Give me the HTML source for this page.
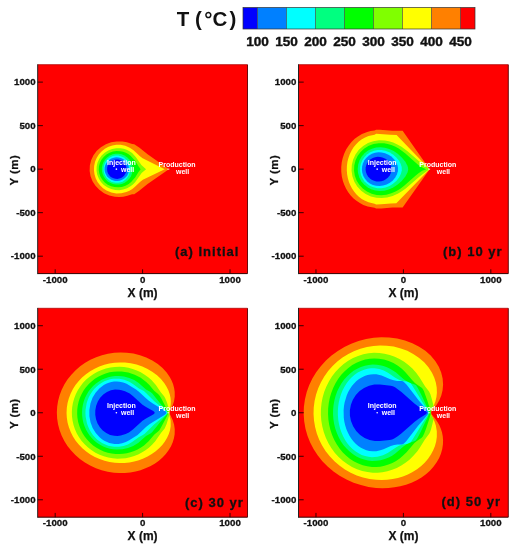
<!DOCTYPE html>
<html><head><meta charset="utf-8"><title>Temperature contours</title><style>html,body{margin:0;padding:0;background:#fff;}
svg{display:block;filter:blur(0.4px);}
text{font-family:"Liberation Sans",Arial,sans-serif;font-weight:bold;}
.tk{font-size:9.7px;fill:#111;stroke:#111;stroke-width:0.3px;}
.ax{font-size:12px;fill:#111;stroke:#111;stroke-width:0.25px;}
.ay{font-size:11.5px;letter-spacing:0.4px;}
.wl{font-size:7px;fill:#fff;}
.pt{font-size:13px;fill:#111;letter-spacing:1.0px;stroke:#111;stroke-width:0.3px;}
.cb{font-size:13.6px;fill:#111;stroke:#111;stroke-width:0.4px;}
.ttl{font-size:20.5px;fill:#111;}
</style></head>
<body><svg width="516" height="550" viewBox="0 0 516 550">
<rect x="243" y="7.5" width="14.5" height="21.5" fill="#0000ff"/>
<rect x="257.5" y="7.5" width="29" height="21.5" fill="#0080ff"/>
<rect x="286.5" y="7.5" width="29" height="21.5" fill="#00ffff"/>
<rect x="315.5" y="7.5" width="29" height="21.5" fill="#00ff80"/>
<rect x="344.5" y="7.5" width="29" height="21.5" fill="#00ff00"/>
<rect x="373.5" y="7.5" width="29" height="21.5" fill="#80ff00"/>
<rect x="402.5" y="7.5" width="29" height="21.5" fill="#ffff00"/>
<rect x="431.5" y="7.5" width="29" height="21.5" fill="#ff8000"/>
<rect x="460.5" y="7.5" width="14.5" height="21.5" fill="#ff0000"/>
<line x1="257.5" y1="7.5" x2="257.5" y2="29" stroke="#333" stroke-width="0.6"/>
<line x1="286.5" y1="7.5" x2="286.5" y2="29" stroke="#333" stroke-width="0.6"/>
<line x1="315.5" y1="7.5" x2="315.5" y2="29" stroke="#333" stroke-width="0.6"/>
<line x1="344.5" y1="7.5" x2="344.5" y2="29" stroke="#333" stroke-width="0.6"/>
<line x1="373.5" y1="7.5" x2="373.5" y2="29" stroke="#333" stroke-width="0.6"/>
<line x1="402.5" y1="7.5" x2="402.5" y2="29" stroke="#333" stroke-width="0.6"/>
<line x1="431.5" y1="7.5" x2="431.5" y2="29" stroke="#333" stroke-width="0.6"/>
<line x1="460.5" y1="7.5" x2="460.5" y2="29" stroke="#333" stroke-width="0.6"/>
<rect x="243" y="7.5" width="232" height="21.5" fill="none" stroke="#333" stroke-width="0.7"/>
<text x="257.5" y="46.2" class="cb" text-anchor="middle">100</text>
<text x="286.5" y="46.2" class="cb" text-anchor="middle">150</text>
<text x="315.5" y="46.2" class="cb" text-anchor="middle">200</text>
<text x="344.5" y="46.2" class="cb" text-anchor="middle">250</text>
<text x="373.5" y="46.2" class="cb" text-anchor="middle">300</text>
<text x="402.5" y="46.2" class="cb" text-anchor="middle">350</text>
<text x="431.5" y="46.2" class="cb" text-anchor="middle">400</text>
<text x="460.5" y="46.2" class="cb" text-anchor="middle">450</text>
<text x="176.8" y="25.6" class="ttl">T (<tspan dx="2.4">°C</tspan><tspan dx="2.2">)</tspan></text>
<clipPath id="clipa"><rect x="37.7" y="64.7" width="209.8" height="208.9"/></clipPath>
<rect x="37.7" y="64.7" width="209.8" height="208.9" fill="#ff0000"/>
<g clip-path="url(#clipa)">
<path d="M122.35,141.47 126.87,142.3 132.11,144.07 134.21,144.15 139.19,147.59 147.58,154.33 168.82,169.15 147.58,183.97 139.19,190.71 134.21,194.15 132.11,194.23 127.39,195.85 123.19,196.73 119,197.01 114.8,196.73 109.29,195.45 104.05,193.14 99.33,189.86 95.47,185.86 92.51,181.25 90.55,176.2 89.65,170.98 89.84,165.49 91.12,160.27 93.47,155.31 96.8,150.87 100.9,147.19 105.89,144.21 111.13,142.3 116.64,141.38 122.35,141.47Z" fill="#ff8000" fill-rule="evenodd"/>
<path d="M120.61,144.87 125.29,145.83 129.75,147.74 133.56,150.35 139.72,156.1 142.6,158.28 164.75,169.15 142.86,179.86 140,181.95 134.99,186.71 132.37,188.88 129.49,190.7 126.34,192.11 121.36,193.34 116.38,193.5 111.39,192.6 106.5,190.56 103.01,188.21 100.01,185.34 97.52,181.95 95.69,178.29 94.49,174.37 93.95,170.19 94.13,166.02 95.04,161.84 96.64,157.92 98.8,154.45 101.52,151.39 104.84,148.75 108.51,146.75 112.44,145.42 116.38,144.8 120.61,144.87Z" fill="#ffff00" fill-rule="evenodd"/>
<path d="M120.51,148.26 123.72,148.85 126.6,149.81 129.49,151.26 132.11,153.11 135.74,156.88 141.4,164.97 146.07,169.15 141.64,173.07 135.11,182.21 132.9,184.51 130.54,186.37 127.13,188.26 123.19,189.58 119.26,190.14 115.33,189.99 111.13,189.04 107.2,187.29 103.79,184.9 100.95,181.95 98.77,178.55 97.23,174.63 96.54,170.72 96.65,166.54 97.55,162.62 99.19,158.97 101.6,155.57 104.65,152.7 108.25,150.45 112.18,148.94 116.38,148.2 120.51,148.26Z" fill="#80ff00" fill-rule="evenodd"/>
<path d="M120.32,151.13 123.19,151.74 125.82,152.71 128.19,154 130.54,155.77 133.95,159.61 134.99,160.47 138.5,166.28 140.66,169.15 138.5,172.02 134.99,177.83 133.95,178.69 131.17,181.95 128.7,183.96 125.55,185.7 121.88,186.89 118.21,187.34 114.54,187.09 111.13,186.22 107.72,184.63 104.77,182.47 102.36,179.86 100.45,176.72 99.23,173.33 98.74,169.93 98.96,166.28 99.89,162.88 101.45,159.75 103.69,156.88 106.41,154.52 109.56,152.71 112.97,151.53 116.64,150.98 120.32,151.13Z" fill="#00ff00" fill-rule="evenodd"/>
<path d="M118.7,153.74 121.62,154.31 124.5,155.49 126.98,157.14 129.09,159.23 130.8,161.75 131.95,164.45 132.57,167.32 132.62,170.46 132.1,173.33 130.98,176.2 129.3,178.81 127.13,181.04 124.65,182.73 121.88,183.91 119,184.53 115.85,184.56 112.97,184.02 110.08,182.85 107.52,181.16 105.41,179.07 103.79,176.71 102.55,173.85 101.93,170.98 101.88,167.84 102.47,164.71 103.65,161.84 105.36,159.29 107.46,157.19 109.85,155.57 112.7,154.36 115.59,153.77 118.7,153.74Z" fill="#00ff80" fill-rule="evenodd"/>
<path d="M118.23,155.57 120.83,156.13 123.19,157.17 125.29,158.64 127.11,160.53 128.6,162.88 129.53,165.23 130.02,167.84 130.02,170.46 129.53,173.07 128.6,175.42 127.13,177.74 125.29,179.66 123.19,181.13 120.83,182.17 118.21,182.73 115.59,182.75 112.97,182.22 110.61,181.22 108.51,179.8 106.52,177.77 105.1,175.57 104.1,173.07 103.6,170.46 103.6,167.84 104.1,165.23 105.15,162.62 106.67,160.34 108.51,158.5 110.61,157.08 112.97,156.08 115.59,155.55 118.23,155.57Z" fill="#00ffff" fill-rule="evenodd"/>
<path d="M118.45,157.4 120.83,157.95 122.93,158.88 124.92,160.27 126.6,162.04 127.91,164.17 128.68,166.28 129.02,168.37 128.94,170.72 128.36,173.07 127.36,175.16 126,176.98 124.24,178.57 122.14,179.82 119.78,180.65 117.42,180.99 115.06,180.89 112.7,180.32 110.61,179.37 108.7,178.03 106.98,176.2 105.7,174.11 104.94,172.02 104.6,169.93 104.68,167.58 105.26,165.23 106.26,163.14 107.63,161.32 109.36,159.75 111.39,158.52 113.75,157.67 116.11,157.31 118.45,157.4Z" fill="#0080ff" fill-rule="evenodd"/>
<path d="M118.19,159.49 120.05,159.94 121.62,160.66 123.19,161.77 124.5,163.16 125.49,164.71 126.2,166.54 126.53,168.37 126.47,170.46 126.04,172.28 125.21,174.11 124.06,175.68 122.67,176.95 121.1,177.92 119.26,178.6 117.42,178.89 115.33,178.8 113.49,178.33 111.78,177.51 110.34,176.45 109.03,175.03 108,173.33 107.35,171.5 107.08,169.67 107.15,167.84 107.58,166.02 108.42,164.19 109.56,162.63 110.87,161.42 112.44,160.43 114.28,159.73 116.11,159.42 118.19,159.49Z" fill="#0000ff" fill-rule="evenodd"/>
</g>
<path d="M37.7,64.7H247.5" stroke="#b00000" stroke-width="0.8"/>
<path d="M247.5,64.7V273.6" stroke="#500" stroke-width="0.9"/>
<path d="M37.7,273.6H247.5" stroke="#300" stroke-width="1"/>
<path d="M37.7,64.3V274.1" stroke="#222" stroke-width="1"/>
<line x1="37.7" y1="256.19" x2="42.9" y2="256.19" stroke="#200" stroke-width="0.9"/>
<text x="35.6" y="259.49" class="tk" text-anchor="end">-1000</text>
<line x1="37.7" y1="212.67" x2="42.9" y2="212.67" stroke="#200" stroke-width="0.9"/>
<text x="35.6" y="215.97" class="tk" text-anchor="end">-500</text>
<line x1="37.7" y1="169.15" x2="42.9" y2="169.15" stroke="#200" stroke-width="0.9"/>
<text x="35.6" y="172.45" class="tk" text-anchor="end">0</text>
<line x1="37.7" y1="125.63" x2="42.9" y2="125.63" stroke="#200" stroke-width="0.9"/>
<text x="35.6" y="128.93" class="tk" text-anchor="end">500</text>
<line x1="37.7" y1="82.11" x2="42.9" y2="82.11" stroke="#200" stroke-width="0.9"/>
<text x="35.6" y="85.41" class="tk" text-anchor="end">1000</text>
<line x1="55.18" y1="273.6" x2="55.18" y2="269.3" stroke="#200" stroke-width="0.9"/>
<text x="55.18" y="282.7" class="tk" text-anchor="middle">-1000</text>
<line x1="142.6" y1="273.6" x2="142.6" y2="269.3" stroke="#200" stroke-width="0.9"/>
<text x="142.6" y="282.7" class="tk" text-anchor="middle">0</text>
<line x1="230.02" y1="273.6" x2="230.02" y2="269.3" stroke="#200" stroke-width="0.9"/>
<text x="230.02" y="282.7" class="tk" text-anchor="middle">1000</text>
<text x="142.6" y="296.8" class="ax" text-anchor="middle">X (m)</text>
<text transform="translate(17.6,170.15) rotate(-90)" class="ax ay" text-anchor="middle">Y (m)</text>
<circle cx="116.38" cy="169.15" r="0.8" fill="#fff"/>
<line x1="167.32" y1="169.15" x2="169.32" y2="169.15" stroke="#fff" stroke-width="0.8"/>
<text x="106.97" y="164.55" class="wl">Injection</text>
<text x="120.97" y="171.75" class="wl">well</text>
<text x="158.52" y="167.15" class="wl">Production</text>
<text x="176.02" y="174.35" class="wl">well</text>
<text x="175" y="256" class="pt">(a) Initial</text>
<clipPath id="clipb"><rect x="298.5" y="64.7" width="209.8" height="208.9"/></clipPath>
<rect x="298.5" y="64.7" width="209.8" height="208.9" fill="#ff0000"/>
<g clip-path="url(#clipb)">
<path d="M379.85,129.72 392.12,130.7 402.61,130.75 429.62,169.15 402.61,207.55 392.39,207.59 381.37,208.5 376.13,208.62 374.55,207.87 367.73,206.54 363.34,204.92 359.87,203.12 356.46,200.84 353.56,198.4 350.69,195.39 348.2,192.13 345.98,188.47 344.26,184.82 342.88,180.9 341.83,176.46 341.27,171.76 341.24,167.06 341.74,162.36 342.73,157.92 344.26,153.48 346.26,149.3 348.75,145.39 351.5,141.99 354.73,138.86 358.29,136.16 361.96,134.03 367.21,131.92 370.62,131.05 374.55,130.43 376.13,129.68 379.85,129.72Z" fill="#ff8000" fill-rule="evenodd"/>
<path d="M379.58,133.9 390.03,134.85 396.58,135.08 429.57,169.15 396.32,203.35 390.81,203.41 381.11,204.31 376.13,204.45 374.55,203.64 368.52,202.27 364.59,200.6 361.7,198.89 358.82,196.7 356.25,194.22 354.06,191.61 352,188.53 350.31,185.34 348.93,181.95 347.85,178.29 347.11,174.37 346.78,170.19 346.89,166.02 347.4,162.1 348.34,158.18 349.73,154.27 351.47,150.68 353.57,147.36 355.93,144.43 358.56,141.83 361.44,139.58 364.59,137.7 368.52,136.03 374.55,134.66 376.13,133.85 379.58,133.9Z" fill="#ffff00" fill-rule="evenodd"/>
<path d="M384.84,140.43 388.98,141.2 393.17,142.52 397.37,144.4 401.56,146.84 407.86,151.51 420.24,162.36 428.56,168.37 429.36,169.18 419.59,176.46 405.76,188.47 401.83,191.29 398.15,193.49 392.65,195.97 387.14,197.51 381.63,198.11 376.39,197.8 370.88,196.46 365.64,194.03 361.18,190.78 357.24,186.49 354.34,181.68 352.37,176.2 351.54,170.72 351.8,164.97 353.15,159.49 355.6,154.27 358.86,149.83 363.17,145.91 368,143.02 373.24,141.13 379.01,140.23 384.84,140.43Z" fill="#80ff00" fill-rule="evenodd"/>
<path d="M384.13,143.3 387.67,143.91 391.34,145 395.01,146.54 398.68,148.55 405.13,153.22 415.2,162.36 418.61,165.15 422.28,167.48 426.18,169.15 422.28,170.82 418.87,172.96 415.46,175.71 404.17,185.86 399.99,188.92 396.06,191.24 391.34,193.3 386.35,194.66 381.37,195.19 376.65,194.91 371.67,193.72 366.95,191.57 362.75,188.55 359.28,184.82 356.56,180.38 354.84,175.68 354.05,170.72 354.26,165.49 355.47,160.53 357.53,156.09 360.57,151.92 364.32,148.46 368.78,145.76 373.5,144.02 378.75,143.16 384.13,143.3Z" fill="#00ff00" fill-rule="evenodd"/>
<path d="M380.48,147.22 384.78,147.65 389.24,148.9 393.7,151.01 397.73,153.74 401.98,157.66 405.34,161.84 407.45,165.76 407.98,167.58 408.13,169.15 407.98,170.72 407.45,172.54 405.34,176.46 401.73,180.9 397.39,184.82 393.17,187.59 388.71,189.59 384.26,190.74 379.8,191.09 375.34,190.6 371.14,189.3 367.47,187.34 364.06,184.55 361.3,181.16 359.26,177.24 358.05,173.07 357.7,168.89 358.21,164.45 359.59,160.27 361.7,156.55 364.59,153.24 368,150.62 371.93,148.68 376.13,147.55 380.48,147.22Z" fill="#00ff80" fill-rule="evenodd"/>
<path d="M381.5,150.09 385.3,150.79 389.24,152.27 392.91,154.47 396.04,157.14 398.68,160.27 400.62,163.67 401.67,167.06 401.78,170.46 400.95,173.85 399.04,177.51 396.29,180.9 392.99,183.77 389.5,185.9 385.57,187.44 381.63,188.2 377.44,188.19 373.5,187.37 370.09,185.93 366.95,183.79 364.35,181.16 362.29,178.03 360.9,174.63 360.19,170.98 360.21,167.06 360.98,163.41 362.43,160.01 364.57,156.88 367.24,154.27 370.36,152.23 374.03,150.77 377.7,150.08 381.5,150.09Z" fill="#00ffff" fill-rule="evenodd"/>
<path d="M381.71,152.44 385.07,153.22 388.45,154.7 391.34,156.62 394.04,159.23 396.07,162.1 397.45,165.23 398.01,168.11 397.88,171.24 396.97,174.37 395.25,177.51 392.81,180.38 389.89,182.73 386.62,184.5 383.21,185.59 379.54,186.04 376.13,185.79 372.98,184.94 369.83,183.4 367.21,181.39 364.97,178.81 363.34,175.94 362.3,172.81 361.91,169.67 362.15,166.28 363.01,163.14 364.45,160.27 366.46,157.66 369.05,155.42 371.93,153.78 375.08,152.73 378.49,152.27 381.71,152.44Z" fill="#0080ff" fill-rule="evenodd"/>
<path d="M380.1,156.88 382.42,157.39 384.78,158.38 386.88,159.77 388.73,161.58 390.15,163.67 391.12,166.02 391.55,168.37 391.46,170.72 390.87,173.07 389.69,175.42 388.01,177.51 386.16,179.07 383.83,180.38 381.37,181.19 379.01,181.52 376.39,181.39 374.03,180.81 371.67,179.71 369.72,178.29 368.04,176.46 366.78,174.37 365.94,172.02 365.61,169.67 365.74,167.32 366.34,164.97 367.34,162.88 368.78,160.94 370.62,159.28 372.72,158.03 375.08,157.17 377.7,156.78 380.1,156.88Z" fill="#0000ff" fill-rule="evenodd"/>
</g>
<path d="M298.5,64.7H508.3" stroke="#b00000" stroke-width="0.8"/>
<path d="M508.3,64.7V273.6" stroke="#500" stroke-width="0.9"/>
<path d="M298.5,273.6H508.3" stroke="#300" stroke-width="1"/>
<path d="M298.5,64.3V274.1" stroke="#222" stroke-width="1"/>
<line x1="298.5" y1="256.19" x2="303.7" y2="256.19" stroke="#200" stroke-width="0.9"/>
<text x="296.4" y="259.49" class="tk" text-anchor="end">-1000</text>
<line x1="298.5" y1="212.67" x2="303.7" y2="212.67" stroke="#200" stroke-width="0.9"/>
<text x="296.4" y="215.97" class="tk" text-anchor="end">-500</text>
<line x1="298.5" y1="169.15" x2="303.7" y2="169.15" stroke="#200" stroke-width="0.9"/>
<text x="296.4" y="172.45" class="tk" text-anchor="end">0</text>
<line x1="298.5" y1="125.63" x2="303.7" y2="125.63" stroke="#200" stroke-width="0.9"/>
<text x="296.4" y="128.93" class="tk" text-anchor="end">500</text>
<line x1="298.5" y1="82.11" x2="303.7" y2="82.11" stroke="#200" stroke-width="0.9"/>
<text x="296.4" y="85.41" class="tk" text-anchor="end">1000</text>
<line x1="315.98" y1="273.6" x2="315.98" y2="269.3" stroke="#200" stroke-width="0.9"/>
<text x="315.98" y="282.7" class="tk" text-anchor="middle">-1000</text>
<line x1="403.4" y1="273.6" x2="403.4" y2="269.3" stroke="#200" stroke-width="0.9"/>
<text x="403.4" y="282.7" class="tk" text-anchor="middle">0</text>
<line x1="490.82" y1="273.6" x2="490.82" y2="269.3" stroke="#200" stroke-width="0.9"/>
<text x="490.82" y="282.7" class="tk" text-anchor="middle">1000</text>
<text x="403.4" y="296.8" class="ax" text-anchor="middle">X (m)</text>
<text transform="translate(278.4,170.15) rotate(-90)" class="ax ay" text-anchor="middle">Y (m)</text>
<circle cx="377.18" cy="169.15" r="0.8" fill="#fff"/>
<line x1="428.12" y1="169.15" x2="430.12" y2="169.15" stroke="#fff" stroke-width="0.8"/>
<text x="367.78" y="164.55" class="wl">Injection</text>
<text x="381.78" y="171.75" class="wl">well</text>
<text x="419.32" y="167.15" class="wl">Production</text>
<text x="436.82" y="174.35" class="wl">well</text>
<text x="443" y="256.3" class="pt">(b) 10 yr</text>
<clipPath id="clipc"><rect x="37.7" y="308.3" width="209.8" height="208.9"/></clipPath>
<rect x="37.7" y="308.3" width="209.8" height="208.9" fill="#ff0000"/>
<g clip-path="url(#clipc)">
<path d="M126.69,352.69 133.42,353.6 139.98,355.2 146.27,357.47 152.3,360.45 157.81,364.04 162.53,368.03 166.65,372.54 169.87,377.22 171.71,380.73 173.12,384.29 174.11,387.94 174.7,391.86 174.74,396.56 174.02,401.26 172.66,405.44 170.06,410.92 169.7,412.75 170.06,414.58 172.77,420.32 174.08,424.5 174.75,429.2 174.65,434.16 173.94,438.34 172.65,442.52 170.9,446.44 168.56,450.36 165.79,454.01 162.53,457.47 158.86,460.66 154.66,463.63 150.21,466.19 145.48,468.36 140.5,470.14 135.52,471.47 130.27,472.41 124.77,472.94 119.26,473.02 114.01,472.67 107.72,471.71 101.69,470.2 95.92,468.19 90.15,465.55 84.91,462.52 79.9,458.97 75.36,455.05 71.13,450.61 67.47,445.91 64.33,440.95 61.6,435.47 59.54,429.98 58.03,424.24 57.14,418.49 56.85,412.49 57.17,406.74 58.08,401 59.62,395.25 61.71,389.77 64.45,384.34 67.65,379.33 71.36,374.63 75.64,370.19 80.18,366.31 85.17,362.81 90.41,359.82 96.18,357.21 101.95,355.22 107.98,353.74 114.28,352.8 120.57,352.46 126.69,352.69Z" fill="#ff8000" fill-rule="evenodd"/>
<path d="M125.01,362.61 130.8,363.32 136.57,364.62 142.34,366.57 147.58,368.98 152.57,371.95 157.02,375.32 160.96,379.08 164.37,383.25 166.54,386.64 168.35,390.29 169.66,393.95 170.52,397.87 170.81,401 170.72,404.13 170.32,406.74 169.27,410.92 169.08,412.75 169.27,414.58 170.67,420.84 170.69,426.33 170.01,430.25 168.82,434.03 167.11,437.82 164.89,441.5 162.27,444.94 159.12,448.28 155.71,451.25 151.78,454.07 147.58,456.52 143.39,458.5 138.93,460.17 134.21,461.49 129.49,462.39 124.5,462.92 119.52,463.03 114.8,462.74 109.56,461.96 104.57,460.76 99.59,459.07 94.87,456.96 90.41,454.46 86.22,451.55 82.33,448.26 78.77,444.61 75.65,440.69 72.96,436.51 70.7,432.07 68.89,427.37 67.61,422.67 66.82,417.71 66.55,413.01 66.79,408.05 67.56,403.09 68.8,398.39 70.58,393.69 72.81,389.25 75.47,385.07 78.55,381.15 82.05,377.5 85.95,374.15 90.15,371.21 94.61,368.67 99.33,366.53 104.31,364.82 109.29,363.59 114.54,362.79 119.78,362.47 125.01,362.61Z" fill="#ffff00" fill-rule="evenodd"/>
<path d="M119.54,366.79 123.98,367.09 128.44,367.82 132.63,368.92 136.83,370.44 140.76,372.3 144.67,374.63 148.23,377.24 151.46,380.11 155.87,385.07 160.96,392.62 164.1,396.32 165.24,398.13 166.99,402.61 169.33,410.4 169.06,412.75 169.33,415.1 166.62,423.98 164.65,428.42 160.96,432.88 155.04,441.47 152.04,444.82 148.89,447.72 145.48,450.32 141.81,452.62 138.14,454.49 134.21,456.06 130.01,457.32 125.82,458.16 121.62,458.62 117.42,458.7 112.7,458.36 108.25,457.58 103.79,456.36 99.59,454.76 95.45,452.7 91.68,450.35 88.05,447.57 84.64,444.37 81.66,440.95 79.05,437.3 76.8,433.38 74.93,429.2 73.53,425.02 72.52,420.58 71.96,416.14 71.85,411.71 72.17,407.27 72.94,402.83 74.17,398.39 75.8,394.21 77.82,390.23 80.29,386.38 83.07,382.85 86.22,379.57 89.63,376.66 93.56,373.92 97.49,371.72 101.69,369.88 105.89,368.51 110.34,367.5 114.8,366.93 119.54,366.79Z" fill="#80ff00" fill-rule="evenodd"/>
<path d="M121.62,371.49 128.29,372.54 134.73,374.66 140.76,377.82 146.2,381.94 149.35,385.07 154.14,390.69 158.09,393.95 159.65,395.73 161.48,398.84 167.33,410.14 167.94,411.71 168.06,413.01 167.78,414.32 167.07,415.88 161.24,427.11 159.38,430.14 158.07,431.56 154.4,434.55 148.62,441.21 144.01,445.39 141.03,447.51 137.62,449.48 134.21,451.06 130.54,452.35 126.87,453.28 123.19,453.86 119.52,454.11 115.59,454.01 111.65,453.54 107.72,452.68 103.79,451.4 100.12,449.79 96.46,447.74 93.11,445.39 90.07,442.78 87.27,439.85 84.65,436.51 82.54,433.19 80.71,429.56 79.25,425.81 78.16,421.89 77.44,417.71 77.15,413.79 77.26,409.62 77.74,405.7 78.62,401.78 79.91,397.87 81.53,394.21 83.59,390.57 85.95,387.23 88.58,384.21 91.51,381.42 94.87,378.81 98.21,376.71 101.87,374.89 105.62,373.45 109.56,372.37 113.49,371.69 117.42,371.39 121.62,371.49Z" fill="#00ff00" fill-rule="evenodd"/>
<path d="M118.59,375.93 123.98,376.5 129.23,377.9 134.2,380.11 138.67,382.97 146.01,389.4 150.47,391.96 152.3,393.52 160.27,403.61 166.41,410.4 167.23,411.71 167.46,412.75 167.23,413.79 166.41,415.1 160.27,421.89 152.04,432.25 150.47,433.54 146.01,436.1 138.14,442.91 133.19,445.91 128.01,448 122.41,449.26 116.9,449.57 113.23,449.29 109.82,448.67 106.41,447.69 103.27,446.44 100.12,444.8 97.23,442.91 94.46,440.69 91.99,438.27 89.63,435.47 87.66,432.6 85.92,429.46 84.45,426.07 83.36,422.67 82.56,419.02 82.15,415.62 82.05,411.97 82.3,408.31 82.91,404.66 83.82,401.26 85.08,397.87 86.6,394.73 88.5,391.6 90.67,388.73 93.07,386.12 95.69,383.77 98.54,381.68 101.67,379.85 104.84,378.4 108.25,377.23 111.65,376.45 115.06,376.02 118.59,375.93Z" fill="#00ff80" fill-rule="evenodd"/>
<path d="M119.27,378.8 124.24,379.78 129.23,381.74 132.9,383.92 138.93,388.42 143.91,391.09 145.75,392.67 154.3,401.26 165.62,410.4 166.72,411.71 167.02,412.75 166.72,413.79 165.62,415.1 154.3,424.24 144.7,433.79 142.86,435.08 138.67,437.25 132.11,442.11 127.91,444.38 123.46,445.94 119,446.72 114.28,446.77 111.13,446.35 108.25,445.65 105.36,444.61 102.48,443.21 99.85,441.58 97.36,439.65 95.13,437.54 92.89,434.95 91.05,432.33 89.41,429.46 88,426.33 86.93,423.2 85.65,416.67 85.44,413.27 85.55,409.88 86.64,403.35 87.61,400.22 88.9,397.08 90.41,394.21 92.25,391.41 94.19,388.99 96.48,386.64 98.8,384.69 101.43,382.9 104.31,381.35 107.2,380.19 110.08,379.37 113.23,378.83 116.38,378.65 119.27,378.8Z" fill="#00ffff" fill-rule="evenodd"/>
<path d="M119.52,381.68 123.19,382.47 126.6,383.77 136.04,389.47 138.93,391.69 145.4,397.87 148.89,400.82 152.83,403.51 164.49,410.4 165.98,411.71 166.4,412.75 165.76,414.06 164.11,415.36 152.99,421.89 149.47,424.24 145.97,427.11 137.62,434.9 129.23,440.32 125.82,442.08 122.14,443.32 118.47,443.94 114.54,443.96 109.29,442.95 104.31,440.77 101.95,439.25 99.59,437.33 95.78,433.12 92.63,427.9 90.5,422.15 89.4,416.14 89.36,409.88 90.43,403.61 92.51,397.87 95.59,392.64 99.33,388.41 103.79,385.04 106.15,383.77 108.77,382.72 111.39,382 114.01,381.58 116.9,381.47 119.52,381.68Z" fill="#0080ff" fill-rule="evenodd"/>
<path d="M119.1,389.77 121.65,390.29 125.03,391.36 127.65,392.41 129.75,393.57 133.16,396.19 142.51,404.66 146.01,407 153.24,410.92 154.4,411.97 154.68,412.75 154.4,413.53 153.24,414.58 146.01,418.5 142.51,420.84 132.9,429.53 128.96,432.41 125.68,433.9 120.83,435.41 117.42,435.89 114.28,435.81 110.08,434.88 106.26,433.12 102.75,430.51 99.85,427.29 97.56,423.46 96.02,419.28 95.25,414.84 95.3,410.14 96.17,405.7 97.82,401.52 100.12,397.87 103.26,394.53 106.93,392 110.87,390.37 115.06,389.62 119.1,389.77Z" fill="#0000ff" fill-rule="evenodd"/>
</g>
<path d="M37.7,308.3H247.5" stroke="#b00000" stroke-width="0.8"/>
<path d="M247.5,308.3V517.2" stroke="#500" stroke-width="0.9"/>
<path d="M37.7,517.2H247.5" stroke="#300" stroke-width="1"/>
<path d="M37.7,307.9V517.7" stroke="#222" stroke-width="1"/>
<line x1="37.7" y1="499.79" x2="42.9" y2="499.79" stroke="#200" stroke-width="0.9"/>
<text x="35.6" y="503.09" class="tk" text-anchor="end">-1000</text>
<line x1="37.7" y1="456.27" x2="42.9" y2="456.27" stroke="#200" stroke-width="0.9"/>
<text x="35.6" y="459.57" class="tk" text-anchor="end">-500</text>
<line x1="37.7" y1="412.75" x2="42.9" y2="412.75" stroke="#200" stroke-width="0.9"/>
<text x="35.6" y="416.05" class="tk" text-anchor="end">0</text>
<line x1="37.7" y1="369.23" x2="42.9" y2="369.23" stroke="#200" stroke-width="0.9"/>
<text x="35.6" y="372.53" class="tk" text-anchor="end">500</text>
<line x1="37.7" y1="325.71" x2="42.9" y2="325.71" stroke="#200" stroke-width="0.9"/>
<text x="35.6" y="329.01" class="tk" text-anchor="end">1000</text>
<line x1="55.18" y1="517.2" x2="55.18" y2="512.9" stroke="#200" stroke-width="0.9"/>
<text x="55.18" y="526.3" class="tk" text-anchor="middle">-1000</text>
<line x1="142.6" y1="517.2" x2="142.6" y2="512.9" stroke="#200" stroke-width="0.9"/>
<text x="142.6" y="526.3" class="tk" text-anchor="middle">0</text>
<line x1="230.02" y1="517.2" x2="230.02" y2="512.9" stroke="#200" stroke-width="0.9"/>
<text x="230.02" y="526.3" class="tk" text-anchor="middle">1000</text>
<text x="142.6" y="540.4" class="ax" text-anchor="middle">X (m)</text>
<text transform="translate(17.6,413.75) rotate(-90)" class="ax ay" text-anchor="middle">Y (m)</text>
<circle cx="116.38" cy="412.75" r="0.8" fill="#fff"/>
<line x1="167.32" y1="412.75" x2="169.32" y2="412.75" stroke="#fff" stroke-width="0.8"/>
<text x="106.97" y="408.15" class="wl">Injection</text>
<text x="120.97" y="415.35" class="wl">well</text>
<text x="158.52" y="410.75" class="wl">Production</text>
<text x="176.02" y="417.95" class="wl">well</text>
<text x="185" y="506.7" class="pt">(c) 30 yr</text>
<clipPath id="clipd"><rect x="298.5" y="308.3" width="209.8" height="208.9"/></clipPath>
<rect x="298.5" y="308.3" width="209.8" height="208.9" fill="#ff0000"/>
<g clip-path="url(#clipd)">
<path d="M389.07,337.55 397.11,338.59 404.97,340.5 412.32,343.2 419.13,346.66 425.34,350.86 430.67,355.61 435.26,361.05 438.8,366.84 441.18,372.54 442.64,378.54 443.09,384.55 442.58,390.29 441.29,395.52 439.22,400.48 436.19,405.44 431.76,410.92 431.1,412.75 431.76,414.58 435.42,419.02 437.75,422.41 439.48,425.55 440.83,428.68 441.97,432.33 442.75,436.25 443.07,440.17 442.95,444.35 442.25,449.05 440.91,453.75 439.04,458.19 436.51,462.62 433.45,466.8 429.89,470.67 425.95,474.16 421.5,477.38 416.77,480.16 411.53,482.64 406.02,484.67 400.25,486.25 394.48,487.35 388.45,488 382.42,488.18 376.13,487.89 368.52,486.88 360.92,485.12 353.57,482.68 346.49,479.57 339.67,475.76 333.5,471.5 327.61,466.55 322.36,461.19 317.64,455.31 313.55,449.05 310.17,442.52 307.47,435.73 305.47,428.68 304.19,421.37 303.67,414.06 303.91,406.74 304.92,399.43 306.72,392.12 309.15,385.33 312.38,378.54 316.18,372.28 320.79,366.14 325.96,360.53 331.54,355.54 337.84,350.92 344.39,347.01 351.21,343.77 358.56,341.08 366.16,339.09 373.77,337.85 381.37,337.33 389.07,337.55Z" fill="#ff8000" fill-rule="evenodd"/>
<path d="M386.64,345.64 393.7,346.6 400.78,348.38 407.33,350.86 413.63,354.13 419.13,357.89 424.17,362.35 428.47,367.31 431.99,372.75 434.22,377.5 435.82,382.46 436.71,387.42 436.9,392.64 436.45,397.08 435.46,401.26 433.96,405.18 430.97,410.92 430.59,413.01 431.08,414.84 434.42,421.37 435.84,425.55 436.81,431.29 436.81,437.03 436.17,441.47 434.98,445.91 433.2,450.35 430.94,454.56 428.07,458.71 424.9,462.39 421.23,465.89 417.04,469.16 412.58,471.99 407.86,474.41 402.88,476.42 397.89,477.95 392.65,479.1 387.14,479.82 381.63,480.07 376.13,479.87 369.57,479.04 363.01,477.54 356.72,475.44 350.69,472.75 344.92,469.47 339.41,465.59 334.43,461.29 329.74,456.36 325.68,451.14 322.1,445.44 319.21,439.65 316.81,433.38 315.1,427.11 314,420.58 313.55,414.06 313.74,407.53 314.58,401 316.09,394.47 318.22,388.2 320.95,382.2 324.28,376.45 328.13,371.09 332.59,366.03 337.31,361.62 342.56,357.59 348.33,354 354.36,351.03 360.39,348.75 366.95,346.98 373.5,345.88 380.06,345.44 386.64,345.64Z" fill="#ffff00" fill-rule="evenodd"/>
<path d="M379.32,352.95 384.52,353.64 389.76,354.9 394.75,356.68 399.47,358.92 404.19,361.79 408.38,364.95 412.39,368.62 416.14,372.8 419.59,377.5 425.17,386.42 429.06,391.6 430.41,394.32 431.94,399.43 433.49,405.96 430.97,410.92 430.61,412.23 430.61,413.27 431.08,414.84 433.49,419.54 431.14,428.94 430.27,431.55 429.36,433.43 424.9,439.46 419.94,447.48 417.37,451.14 413.63,455.59 409.43,459.66 405.5,462.79 401.3,465.54 396.84,467.9 392.12,469.83 387.4,471.24 382.42,472.21 377.7,472.65 372.72,472.63 367.47,472.06 362.23,470.92 356.98,469.18 352,466.9 347.28,464.12 342.77,460.8 338.62,457.04 334.72,452.7 331.28,448.03 328.31,443.04 325.83,437.82 323.82,432.33 322.3,426.59 321.32,420.84 320.86,415.1 320.92,409.09 321.54,403.09 322.66,397.34 324.25,391.86 326.39,386.38 329.02,381.15 332.07,376.31 335.59,371.75 339.41,367.69 343.61,364.03 348.2,360.79 353.05,358.07 358.03,355.92 363.28,354.3 368.52,353.28 374.03,352.82 379.32,352.95Z" fill="#80ff00" fill-rule="evenodd"/>
<path d="M378.97,358.7 383.99,359.58 388.71,361.03 393.43,363.12 397.89,365.78 401.56,368.54 404.97,371.67 412.32,380.21 414.94,382.91 417.25,384.81 422.02,388.03 423.07,389.48 423.96,391.34 427.37,400.74 430.43,410.4 430.67,411.6 430.47,412.75 430.67,413.9 429.73,417.45 426.3,427.9 424.12,433.77 422.77,436.51 421.35,438.08 417.3,440.66 414.41,443.08 406.55,452.17 403.14,455.59 399.73,458.41 396.06,460.9 392.39,462.9 388.45,464.57 384.52,465.79 380.32,466.63 376.13,467.02 371.93,466.96 367.21,466.37 362.75,465.27 358.29,463.62 354.1,461.52 350.13,458.97 346.24,455.84 342.8,452.44 339.55,448.52 336.71,444.35 334.17,439.71 332.09,434.95 330.43,429.98 329.18,424.76 328.39,419.54 328.04,414.06 328.16,408.57 328.77,403.09 329.81,397.87 331.24,392.9 333.16,387.94 335.49,383.24 338.24,378.8 341.25,374.83 344.66,371.14 348.33,367.9 352.26,365.09 356.46,362.73 360.65,360.93 365.11,359.58 369.83,358.73 374.29,358.45 378.97,358.7Z" fill="#00ff00" fill-rule="evenodd"/>
<path d="M376.74,364.7 380.06,365.16 383.47,365.98 386.88,367.18 390.03,368.63 395.74,372.28 403.4,378.92 406.55,381.24 409.96,383 414.68,384.46 415.99,385.33 417.85,387.94 421.76,395.79 428.5,410.14 429.03,411.71 429.14,413.01 428.27,415.88 420.11,433.12 417.39,438.34 415.73,440.4 414.26,441.21 409.43,442.72 406.55,444.26 403.4,446.58 395.27,453.58 392.12,455.69 388.71,457.52 384.78,459.1 380.58,460.23 376.39,460.83 371.93,460.89 368,460.46 364.06,459.57 360.13,458.18 356.46,456.4 353.05,454.27 349.64,451.61 346.49,448.57 343.57,445.13 340.98,441.39 338.7,437.3 336.84,433.12 335.31,428.68 334.15,423.98 333.4,419.28 333.06,414.58 333.1,409.88 333.53,405.18 334.37,400.48 335.55,396.04 337.15,391.6 339.1,387.42 341.37,383.5 343.98,379.85 346.94,376.45 350.16,373.45 353.57,370.87 357.24,368.68 360.92,367 364.85,365.72 368.78,364.92 372.72,364.58 376.74,364.7Z" fill="#00ff80" fill-rule="evenodd"/>
<path d="M374.48,368.36 379.27,369.07 383.73,370.53 387.93,372.67 395.27,377.69 398.94,379.76 402.61,381.04 406.81,381.47 410.74,383.35 413.01,386.64 422.55,402.31 427.72,410.14 428.38,411.44 428.64,412.75 428.38,414.06 427.72,415.36 422.55,423.2 413.01,438.86 410.74,442.15 406.81,444.03 402.61,444.46 398.94,445.74 395.53,447.64 387.67,452.98 382.94,455.28 377.44,456.8 371.93,457.18 368.52,456.86 365.11,456.1 361.7,454.89 358.56,453.34 355.41,451.31 352.52,448.96 349.75,446.17 347.28,443.13 345.12,439.91 343.12,436.25 341.41,432.33 340.07,428.42 339.02,424.24 338.3,420.06 337.9,415.62 337.85,411.18 338.15,406.74 338.76,402.57 339.7,398.39 341.02,394.21 342.62,390.29 344.5,386.64 346.65,383.24 349.11,380.05 351.74,377.27 354.62,374.78 357.77,372.62 360.92,370.95 364.06,369.72 367.47,368.83 370.88,368.37 374.48,368.36Z" fill="#00ffff" fill-rule="evenodd"/>
<path d="M376.42,374.36 381.63,375.57 390.29,379.19 393.7,380.35 397.11,380.96 401.83,381.01 402.88,381.28 403.92,381.88 406.68,384.81 418.97,400.74 427.17,410.14 428.02,411.44 428.35,412.75 428.02,414.06 427.17,415.36 418.12,425.81 406.02,441.49 403.66,443.8 401.83,444.49 397.37,444.52 394.22,445.02 390.81,446.11 383.47,449.24 380.32,450.35 376.39,451.14 372.45,451.26 369.31,450.89 366.42,450.16 363.54,449.05 360.92,447.67 358.29,445.9 355.67,443.66 353.31,441.17 351.21,438.45 349.32,435.47 347.71,432.33 346.32,428.94 345.17,425.28 344.34,421.63 343.78,417.71 343.6,410.14 343.97,406.22 344.6,402.57 346.71,395.52 348.21,392.12 349.94,388.99 351.89,386.12 354.1,383.44 356.46,381.11 359.08,379.03 361.7,377.38 364.59,376 367.47,375.03 370.36,374.44 373.5,374.21 376.42,374.36Z" fill="#0080ff" fill-rule="evenodd"/>
<path d="M379.94,384.55 390.81,385.7 392.91,386.29 395.01,387.36 401.46,392.12 414.68,403.86 419.03,407.01 425.51,410.92 426.61,411.97 426.88,412.75 426.61,413.53 425.51,414.58 419.03,418.49 414.69,421.63 401.04,433.73 397.37,436.57 394.22,438.59 392.12,439.49 389.76,439.95 379.8,440.96 374.81,440.94 369.57,439.93 364.59,437.89 360.13,434.91 356.19,430.97 353.12,426.33 350.98,421.11 349.89,415.62 349.87,410.14 350.9,404.66 352.85,399.69 355.83,394.99 359.6,391.03 364.06,387.9 369.05,385.73 374.29,384.61 379.94,384.55Z" fill="#0000ff" fill-rule="evenodd"/>
</g>
<path d="M298.5,308.3H508.3" stroke="#b00000" stroke-width="0.8"/>
<path d="M508.3,308.3V517.2" stroke="#500" stroke-width="0.9"/>
<path d="M298.5,517.2H508.3" stroke="#300" stroke-width="1"/>
<path d="M298.5,307.9V517.7" stroke="#222" stroke-width="1"/>
<line x1="298.5" y1="499.79" x2="303.7" y2="499.79" stroke="#200" stroke-width="0.9"/>
<text x="296.4" y="503.09" class="tk" text-anchor="end">-1000</text>
<line x1="298.5" y1="456.27" x2="303.7" y2="456.27" stroke="#200" stroke-width="0.9"/>
<text x="296.4" y="459.57" class="tk" text-anchor="end">-500</text>
<line x1="298.5" y1="412.75" x2="303.7" y2="412.75" stroke="#200" stroke-width="0.9"/>
<text x="296.4" y="416.05" class="tk" text-anchor="end">0</text>
<line x1="298.5" y1="369.23" x2="303.7" y2="369.23" stroke="#200" stroke-width="0.9"/>
<text x="296.4" y="372.53" class="tk" text-anchor="end">500</text>
<line x1="298.5" y1="325.71" x2="303.7" y2="325.71" stroke="#200" stroke-width="0.9"/>
<text x="296.4" y="329.01" class="tk" text-anchor="end">1000</text>
<line x1="315.98" y1="517.2" x2="315.98" y2="512.9" stroke="#200" stroke-width="0.9"/>
<text x="315.98" y="526.3" class="tk" text-anchor="middle">-1000</text>
<line x1="403.4" y1="517.2" x2="403.4" y2="512.9" stroke="#200" stroke-width="0.9"/>
<text x="403.4" y="526.3" class="tk" text-anchor="middle">0</text>
<line x1="490.82" y1="517.2" x2="490.82" y2="512.9" stroke="#200" stroke-width="0.9"/>
<text x="490.82" y="526.3" class="tk" text-anchor="middle">1000</text>
<text x="403.4" y="540.4" class="ax" text-anchor="middle">X (m)</text>
<text transform="translate(278.4,413.75) rotate(-90)" class="ax ay" text-anchor="middle">Y (m)</text>
<circle cx="377.18" cy="412.75" r="0.8" fill="#fff"/>
<line x1="428.12" y1="412.75" x2="430.12" y2="412.75" stroke="#fff" stroke-width="0.8"/>
<text x="367.78" y="408.15" class="wl">Injection</text>
<text x="381.78" y="415.35" class="wl">well</text>
<text x="419.32" y="410.75" class="wl">Production</text>
<text x="436.82" y="417.95" class="wl">well</text>
<text x="441.5" y="506.3" class="pt">(d) 50 yr</text>
</svg></body></html>
